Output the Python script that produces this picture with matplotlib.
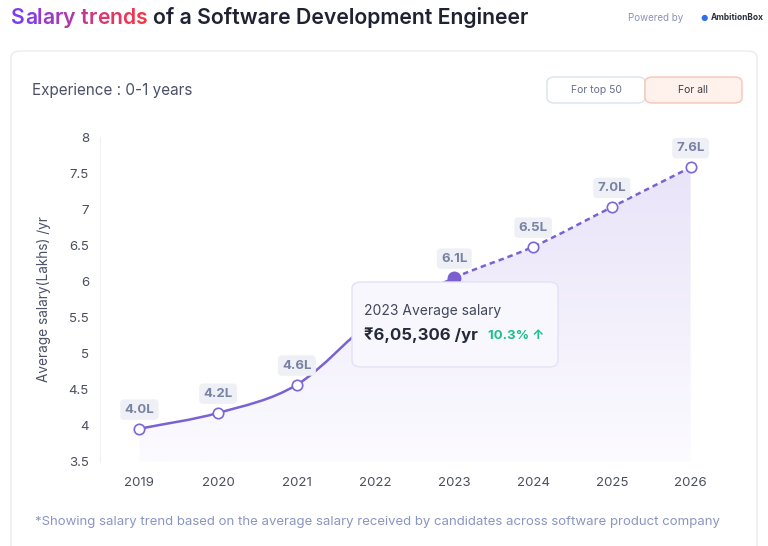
import numpy as np
import matplotlib.pyplot as plt
from matplotlib.path import Path
from matplotlib.patches import PathPatch, FancyBboxPatch
from matplotlib.colors import LinearSegmentedColormap

plt.rcParams['font.family'] = ['Inter', 'DejaVu Sans']

# Data
years = [2019, 2020, 2021, 2022, 2023, 2024, 2025, 2026]
salary = [3.96, 4.18, 4.57, 5.49, 6.05, 6.48, 7.03, 7.58]
labels = ['4.0L', '4.2L', '4.6L', '5.5L', '6.1L', '6.5L', '7.0L', '7.6L']
yticks = [3.5, 4, 4.5, 5, 5.5, 6, 6.5, 7, 7.5, 8]
current_idx = 4  # 2023, forecast after this

W, H = 768, 546
fig = plt.figure(figsize=(W / 100, H / 100), dpi=100)
fig.patch.set_facecolor('white')


def fx(x):
    return x / W


def fy(y):
    return 1 - y / H


def fig_box(x0, y0, x1, y1, fc, ec, z, r=0.01):
    p = FancyBboxPatch((fx(x0), fy(y1)), fx(x1 - x0), (y1 - y0) / H,
                       boxstyle=f'round,pad=0,rounding_size={r}',
                       transform=fig.transFigure, fc=fc, ec=ec, lw=1, zorder=z)
    fig.patches.append(p)
    return p


# card
fig_box(11, 51, 757, 600, 'white', '#ebebef', -5, 0.012)

# title with purple -> red gradient on the first words
grad_start = np.array([0x7c, 0x3c, 0xf2]) / 255
grad_end = np.array([0xf5, 0x36, 0x45]) / 255
word = 'Salary trends'
tsize = 15.3
prev = fig.text(fx(11), fy(18), word[0], fontsize=tsize, fontweight='semibold',
                color=grad_start, va='center', ha='left')
for i, ch in enumerate(word[1:]):
    t = (i + 1) / (len(word) - 1)
    col = grad_start * (1 - t) + grad_end * t
    prev = fig.add_artist(plt.Annotation(ch, xy=(1, 0), xycoords=prev, ha='left', va='bottom',
                                         fontsize=tsize, fontweight='semibold', color=col))
fig.add_artist(plt.Annotation('of a Software Development Engineer', xy=(1, 0), xycoords=prev,
                              xytext=(4.5, 0), textcoords='offset points',
                              ha='left', va='bottom', fontsize=tsize,
                              fontweight='semibold', color='#1f2233'))

fig.text(fx(628), fy(18), 'Powered by', fontsize=7, color='#8a93b3', va='center')
fig.text(fx(700), fy(18), '●', fontsize=6, color='#2f6fe8', va='center')
fig.text(fx(711), fy(18), 'AmbitionBox', fontsize=6, fontweight='bold', color='#2a2e3e', va='center')

fig.text(fx(32), fy(90), 'Experience : 0-1 years', fontsize=11, color='#4b5168', va='center')

# toggle buttons
fig_box(547, 77, 645, 103, 'white', '#dbe3ec', -4)
fig_box(645, 77, 742, 103, '#fff1ec', '#f8c4b4', -4)
fig.text(fx(596), fy(90), 'For top 50', fontsize=7.5, color='#66708a', ha='center', va='center')
fig.text(fx(693), fy(90), 'For all', fontsize=7.5, color='#3d3f4a', ha='center', va='center')

# main axes
ax = fig.add_axes([fx(100), fy(462), fx(630), (462 - 137) / H])
ax.set_facecolor('none')
ax.set_yticks(yticks)
ax.set_yticklabels([f'{v:g}' for v in yticks])
ax.set_xticks(years)
ax.tick_params(length=0, labelsize=9.5, colors='#4a4f5e')
ax.tick_params(axis='x', pad=11)
ax.tick_params(axis='y', pad=8)
for s in ['top', 'right', 'bottom']:
    ax.spines[s].set_visible(False)
ax.spines['left'].set_color('#f1f1f3')
ax.set_ylabel('Average salary(Lakhs) /yr', fontsize=9.8, color='#4b5168', labelpad=13)

# smooth path through the points (Catmull-Rom as cubic Bezier)
xs = np.array(years, dtype=float)
ys = np.array(salary, dtype=float)
n = len(xs)
tang_x = np.gradient(xs)
tang_y = np.gradient(ys, xs) * tang_x


def bezier(i0, i1):
    verts = [(xs[i0], ys[i0])]
    codes = [Path.MOVETO]
    for i in range(i0, i1):
        c1 = (xs[i] + tang_x[i] / 3, ys[i] + tang_y[i] / 3)
        c2 = (xs[i + 1] - tang_x[i + 1] / 3, ys[i + 1] - tang_y[i + 1] / 3)
        verts += [c1, c2, (xs[i + 1], ys[i + 1])]
        codes += [Path.CURVE4] * 3
    return verts, codes


v_all, c_all = bezier(0, n - 1)
fill_verts = v_all + [(xs[-1], 3.5), (xs[0], 3.5), (xs[0], ys[0])]
fill_codes = c_all + [Path.LINETO, Path.LINETO, Path.CLOSEPOLY]
fill_patch = PathPatch(Path(fill_verts, fill_codes), fc='none', ec='none')
ax.add_patch(fill_patch)
cmap = LinearSegmentedColormap.from_list('g', ['#fcfbff', '#e8e2f8'])
grad = np.linspace(0, 1, 256).reshape(-1, 1)
im = ax.imshow(grad, cmap=cmap, aspect='auto', origin='lower',
               extent=[xs[0], xs[-1], 3.5, 7.8], zorder=1)
im.set_clip_path(fill_patch)
ax.set_xlim(2018.5, 2026.5)
ax.set_ylim(3.5, 8)

line_col = '#7a62d4'
v1, c1 = bezier(0, current_idx)
ax.add_patch(PathPatch(Path(v1, c1), fc='none', ec=line_col, lw=1.8, zorder=3))
v2, c2 = bezier(current_idx, n - 1)
ax.add_patch(PathPatch(Path(v2, c2), fc='none', ec=line_col, lw=1.8,
                       ls=(0, (2.2, 1.6)), zorder=3))

for i, (x, y) in enumerate(zip(years, salary)):
    if i == current_idx:
        ax.plot(x, y, 'o', ms=9, mfc='#7a5fd0', mec='#7a5fd0', zorder=5)
    else:
        ax.plot(x, y, 'o', ms=7.5, mfc='white', mec='#7c67d6', mew=1.2, zorder=5)
    ax.annotate(labels[i], (x, y), xytext=(0, 9.5), textcoords='offset points',
                ha='center', va='bottom', fontsize=9.5, fontweight='bold', color='#7883a3',
                bbox=dict(boxstyle='round,pad=0.32,rounding_size=0.3', fc='#eef0f5', ec='none'),
                zorder=4)

# tooltip
fig_box(352, 282, 558, 367, '#f7f7fd', '#e3e2f6', 10, 0.012)
fig.text(fx(364), fy(311), '2023 Average salary', fontsize=10, color='#41465a',
         va='center', zorder=11)
fig.text(fx(364), fy(335), '₹6,05,306 /yr', fontsize=12, fontweight='bold',
         color='#262a38', va='center', zorder=11)
fig.text(fx(488), fy(336), '10.3% ↑', fontsize=9.5, fontweight='bold',
         color='#1cbf8e', va='center', zorder=11)

fig.text(fx(35), fy(522), '*Showing salary trend based on the average salary received by '
         'candidates across software product company', fontsize=9.5, color='#8a96c2',
         va='center')

fig.savefig('out.png', dpi=100)
